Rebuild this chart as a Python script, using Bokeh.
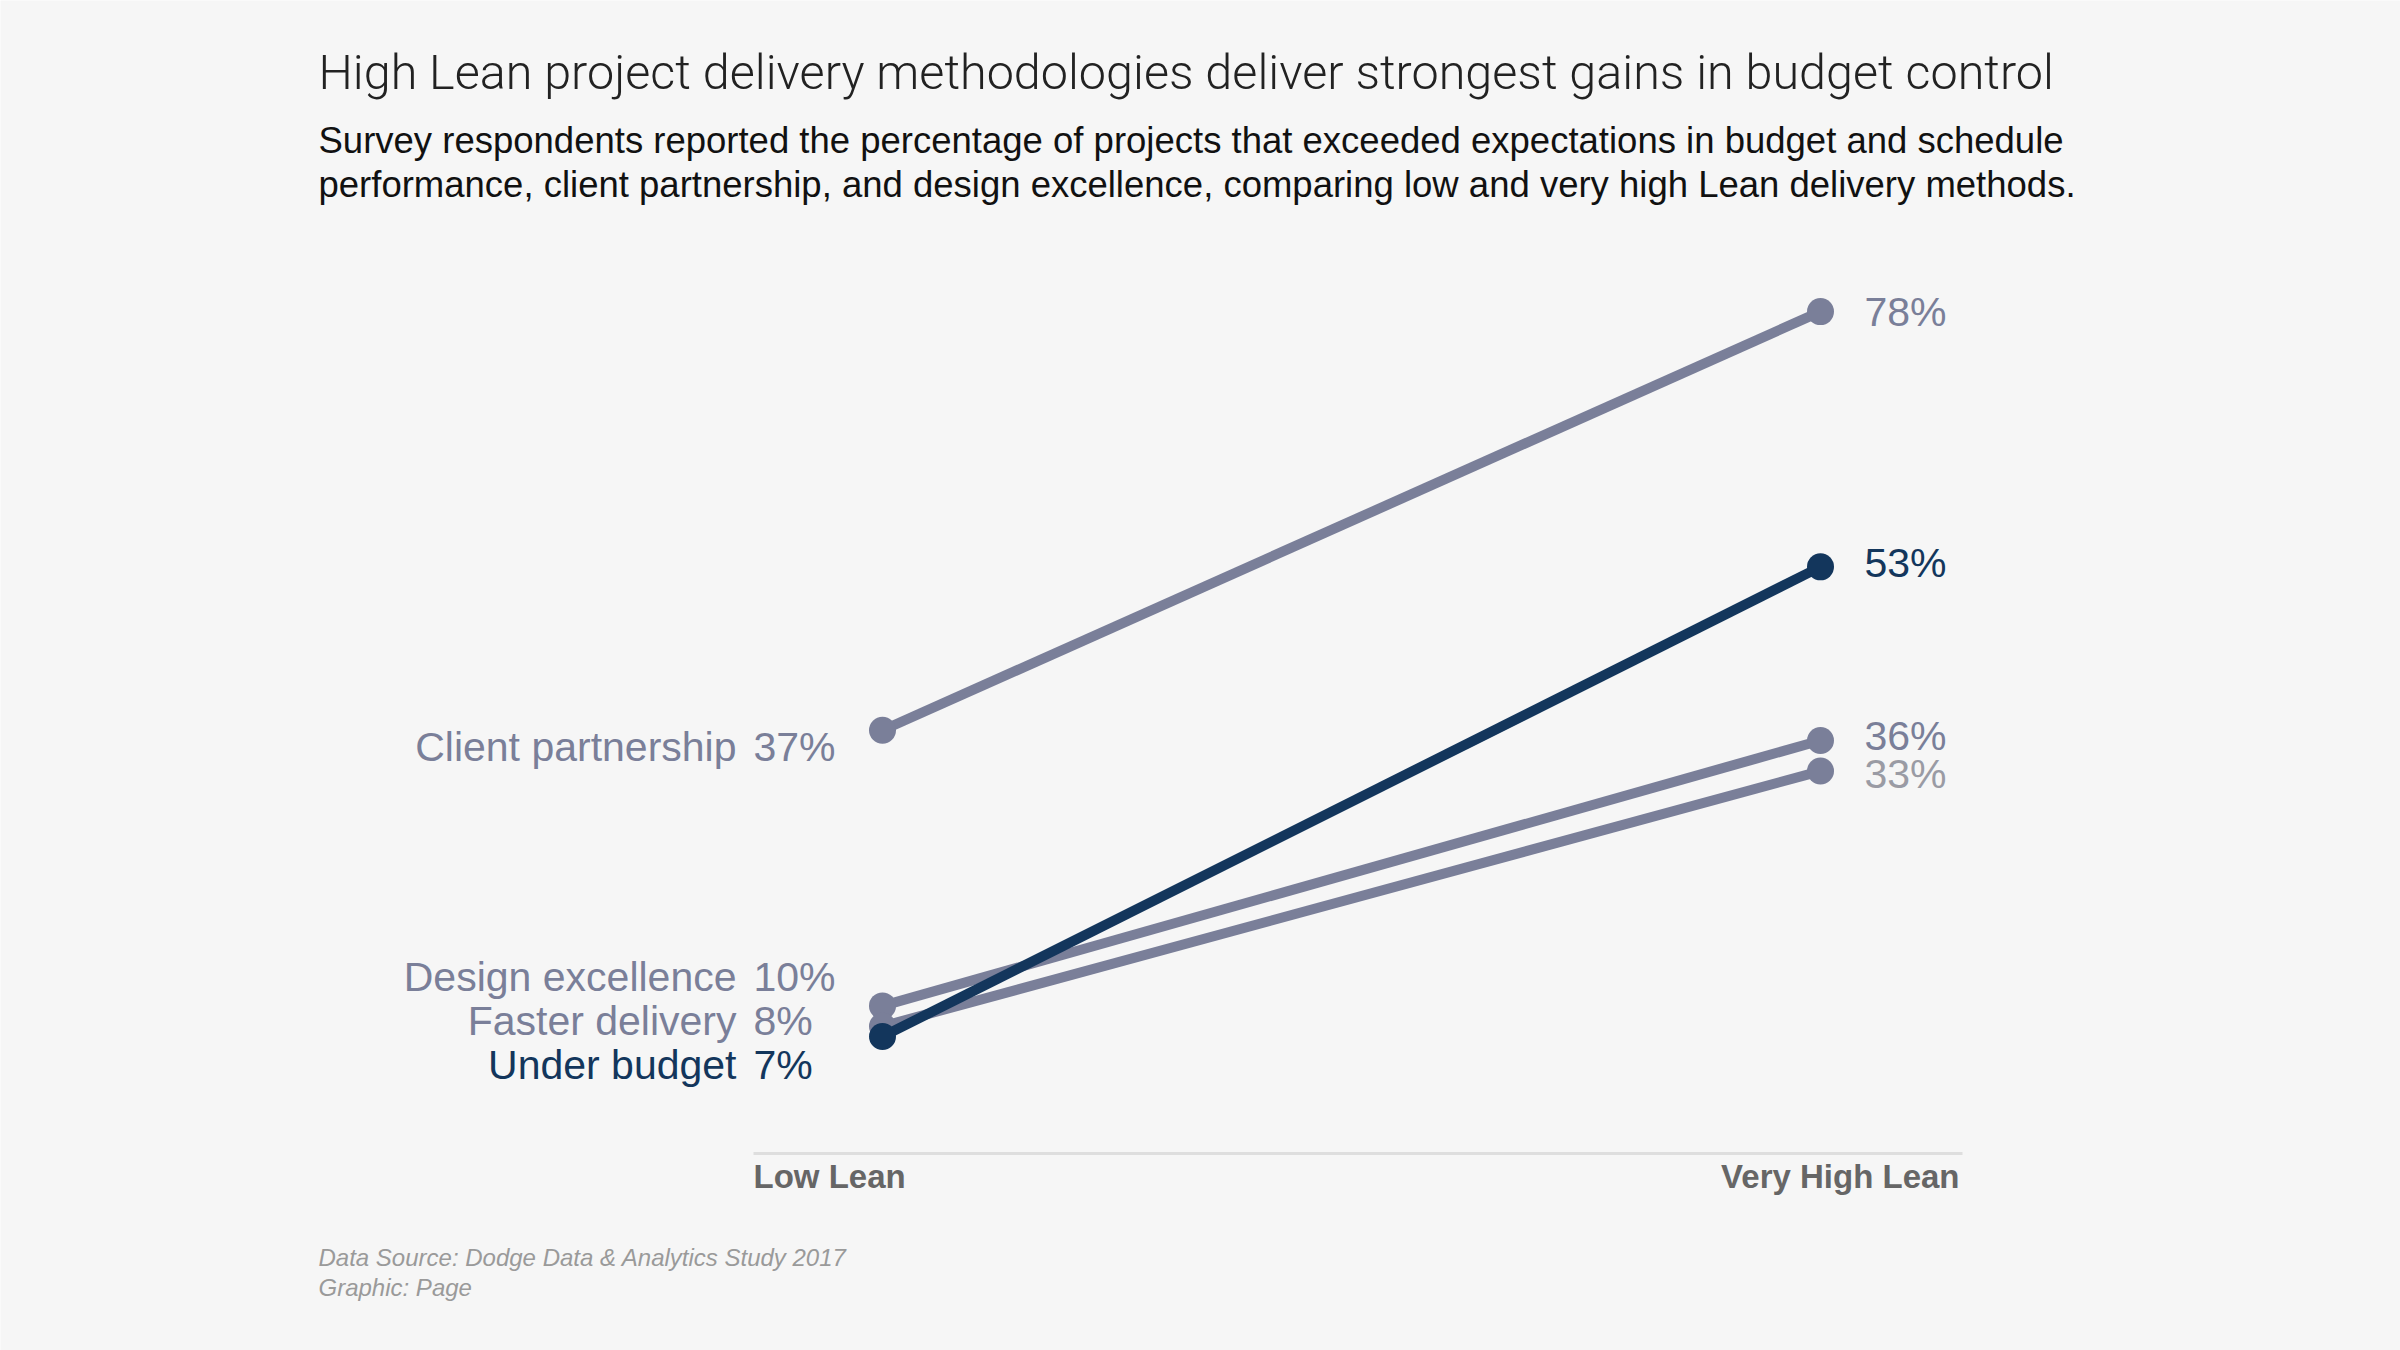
from bokeh.plotting import figure
from bokeh.models import Range1d, Label
from bokeh.core.properties import value
from bokeh.embed import file_html
from bokeh.resources import INLINE

# ---------------- data ----------------
categories = ["Client partnership", "Design excellence", "Faster delivery", "Under budget"]
low_lean = [37, 10, 8, 7]
very_high_lean = [78, 36, 33, 53]
stage_labels = ["Low Lean", "Very High Lean"]

title = "High Lean project delivery methodologies deliver strongest gains in budget control"
subtitle = [
    "Survey respondents reported the percentage of projects that exceeded expectations in budget and schedule",
    "performance, client partnership, and design excellence, comparing low and very high Lean delivery methods.",
]
footer = ["Data Source: Dodge Data & Analytics Study 2017", "Graphic: Page"]

# ---------------- style ----------------
GREY = "#7a7f99"
NAVY = "#13365c"
line_colors = [GREY, GREY, GREY, NAVY]
left_text_colors = [GREY, GREY, GREY, NAVY]
right_text_colors = [GREY, GREY, "#9a9ba4", NAVY]
left_label_dy = [17, -29, -5, 28]      # pixel nudges to avoid overlaps
right_label_dy = [0, -4, 3, -4]
BG = "#f6f6f6"
FONT = "Liberation Sans"
LABEL_SIZE = "41px"

W, H = 2400, 1350
LOW_PX, HIGH_PX = 882, 1820          # screen x of the two stages
PPU_X = HIGH_PX - LOW_PX
PPU_Y = 10.21                         # px per percentage point
ZERO_PX = 1107.5                      # screen y of 0%

x_start = -LOW_PX / PPU_X
x_end = x_start + W / PPU_X
y_end = ZERO_PX / PPU_Y
y_start = y_end - H / PPU_Y


def dx(px):
    return x_start + px / PPU_X


def dy(py):
    return y_end - py / PPU_Y


p = figure(width=W, height=H, output_backend="svg", toolbar_location=None,
           x_range=Range1d(x_start, x_end), y_range=Range1d(y_start, y_end),
           x_axis_location=None, y_axis_location=None, min_border=0)
p.grid.visible = False
p.outline_line_color = None
p.background_fill_color = BG
p.border_fill_color = BG

# axis baseline
p.segment(x0=[dx(753)], y0=[dy(1153)], x1=[dx(1962)], y1=[dy(1153)],
          line_color="#dedede", line_width=3)
p.text(x=[dx(753)], y=[dy(1176)], text=[stage_labels[0]], text_font=value(FONT),
       text_font_style="bold", text_font_size="33px", text_color="#666666",
       text_align="left", text_baseline="middle")
p.text(x=[dx(1959)], y=[dy(1176)], text=[stage_labels[1]], text_font=value(FONT),
       text_font_style="bold", text_font_size="33px", text_color="#666666",
       text_align="right", text_baseline="middle")

# slope lines
for i, cat in enumerate(categories):
    xs = [0, 1]
    ys = [low_lean[i], very_high_lean[i]]
    p.line(xs, ys, line_color=line_colors[i], line_width=10)
    p.scatter(xs, ys, size=27, fill_color=line_colors[i], line_color=None)

# left / right labels
for i, cat in enumerate(categories):
    p.text(x=[0], y=[low_lean[i]], text=[cat], x_offset=-146, y_offset=left_label_dy[i],
           text_font=value(FONT), text_font_size=LABEL_SIZE, text_color=left_text_colors[i],
           text_align="right", text_baseline="middle")
    p.text(x=[0], y=[low_lean[i]], text=[f"{low_lean[i]}%"], x_offset=-129,
           y_offset=left_label_dy[i], text_font=value(FONT), text_font_size=LABEL_SIZE,
           text_color=left_text_colors[i], text_align="left", text_baseline="middle")
    p.text(x=[1], y=[very_high_lean[i]], text=[f"{very_high_lean[i]}%"], x_offset=44,
           y_offset=right_label_dy[i], text_font=value(FONT), text_font_size=LABEL_SIZE,
           text_color=right_text_colors[i], text_align="left", text_baseline="middle")

# titles
p.add_layout(Label(x=dx(318), y=dy(72), text=title, text_font="Roboto Light, Roboto",
                   text_font_size="48.5px", text_color="#222222",
                   text_align="left", text_baseline="middle"))
for k, line in enumerate(subtitle):
    p.add_layout(Label(x=dx(318), y=dy(140 + 44 * k), text=line, text_font=FONT,
                       text_font_size="36.5px", text_color="#111111",
                       text_align="left", text_baseline="middle"))
for k, line in enumerate(footer):
    p.add_layout(Label(x=dx(318), y=dy(1257 + 30 * k), text=line, text_font=FONT,
                       text_font_size="24px", text_font_style="italic", text_color="#9a9a9a",
                       text_align="left", text_baseline="middle"))

open("out.html", "w").write(file_html(p, INLINE))
